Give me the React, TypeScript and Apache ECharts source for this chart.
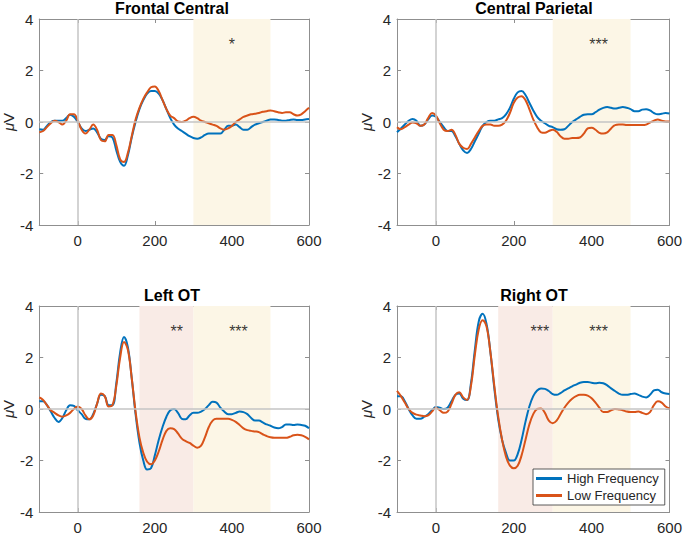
import React, { useEffect, useRef } from "react";
import * as echarts from "echarts";

// time samples (ms)
const TIMES: number[] = [];
for (let t = -100; t <= 600; t += 10) TIMES.push(t);

const FC_HIGH = [
  -0.28, -0.3, -0.15, 0.0, 0.05, 0.05, 0.05, 0.15, 0.28, 0.2,
  0.0, -0.25, -0.35, -0.3, -0.25, -0.4, -0.65, -0.7, -0.55, -0.6,
  -1.1, -1.55, -1.7, -1.3, -0.6, 0.0, 0.5, 0.85, 1.1, 1.2,
  1.2, 1.1, 0.85, 0.5, 0.15, -0.1, -0.25, -0.35, -0.45, -0.55,
  -0.62, -0.65, -0.6, -0.5, -0.45, -0.45, -0.45, -0.45, -0.3, -0.15,
  -0.15, -0.1, -0.2, -0.3, -0.3, -0.2, -0.1, -0.05, 0.0, 0.05,
  0.1, 0.1, 0.08, 0.05, 0.05, 0.08, 0.1, 0.08, 0.08, 0.1, 0.12,
];
const FC_LOW = [
  -0.4, -0.35, -0.2, -0.05, 0.05, 0.0, -0.1, 0.05, 0.3, 0.3,
  0.05, -0.3, -0.45, -0.3, -0.1, -0.3, -0.7, -0.75, -0.5, -0.5,
  -0.9, -1.45, -1.55, -1.2, -0.55, 0.1, 0.55, 0.9, 1.15, 1.35,
  1.38, 1.2, 0.85, 0.5, 0.25, 0.15, 0.02, 0.0, 0.05, 0.15,
  0.2, 0.15, 0.05, 0.0, -0.05, -0.1, -0.15, -0.25, -0.3, -0.25,
  -0.15, 0.0, 0.1, 0.2, 0.25, 0.3, 0.32, 0.35, 0.4, 0.42,
  0.45, 0.42, 0.38, 0.35, 0.38, 0.38, 0.3, 0.25, 0.3, 0.42, 0.55,
];
const CP_HIGH = [
  -0.4, -0.25, -0.1, 0.05, 0.12, 0.05, -0.15, -0.1, 0.1, 0.25,
  0.2, 0.0, -0.2, -0.35, -0.35, -0.55, -0.85, -1.1, -1.2, -1.05,
  -0.75, -0.45, -0.15, 0.0, 0.05, 0.05, 0.1, 0.15, 0.3, 0.55,
  0.9, 1.15, 1.2, 1.05, 0.75, 0.45, 0.2, 0.05, -0.05, -0.15,
  -0.2, -0.28, -0.3, -0.28, -0.15, 0.0, 0.1, 0.2, 0.28, 0.3,
  0.3, 0.38, 0.48, 0.55, 0.58, 0.55, 0.52, 0.55, 0.58, 0.55,
  0.5, 0.42, 0.42, 0.48, 0.5, 0.45, 0.35, 0.3, 0.32, 0.35, 0.33,
];
const CP_LOW = [
  -0.2, -0.28, -0.2, -0.1, -0.02, -0.05, -0.15, -0.1, 0.15, 0.35,
  0.25, -0.05, -0.3, -0.35, -0.3, -0.5, -0.85, -1.0, -1.05, -0.85,
  -0.6, -0.35, -0.15, -0.1, -0.1, -0.15, -0.15, -0.1, 0.05, 0.35,
  0.75, 0.95, 1.0, 0.85, 0.5, 0.1, -0.2, -0.4, -0.42, -0.35,
  -0.3, -0.38, -0.55, -0.65, -0.65, -0.62, -0.62, -0.6, -0.45, -0.25,
  -0.22, -0.3, -0.42, -0.45, -0.4, -0.25, -0.12, -0.1, -0.1, -0.12,
  -0.12, -0.12, -0.12, -0.12, -0.1, -0.02, 0.05, 0.1, 0.05, 0.02, 0.02,
];
const LOT_HIGH = [
  0.3, 0.3, 0.15, -0.1, -0.35, -0.5, -0.35, -0.05, 0.15, 0.12,
  -0.05, -0.2, -0.38, -0.4, -0.2, 0.2, 0.55, 0.5, 0.15, 0.15,
  1.0, 2.2, 2.8, 2.4, 1.2, -0.2, -1.3, -2.0, -2.35, -2.3,
  -1.8, -1.2, -0.7, -0.3, -0.05, 0.0, -0.15, -0.38, -0.4, -0.25,
  -0.15, -0.15, -0.1, 0.0, 0.15, 0.28, 0.25, 0.05, -0.1, -0.2,
  -0.2, -0.15, -0.1, -0.12, -0.2, -0.35, -0.45, -0.45, -0.52, -0.6,
  -0.65, -0.72, -0.75, -0.7, -0.6, -0.6, -0.62, -0.6, -0.62, -0.65, -0.75,
];
const LOT_LOW = [
  0.45, 0.35, 0.15, -0.05, -0.15, -0.25, -0.3, -0.25, -0.15, 0.0,
  0.1, 0.0, -0.25, -0.4, -0.25, 0.2, 0.6, 0.5, 0.1, 0.15,
  0.9, 2.0, 2.6, 2.3, 1.2, -0.1, -1.1, -1.7, -2.05, -2.15,
  -2.0, -1.65, -1.2, -0.85, -0.75, -0.78, -0.95, -1.15, -1.25, -1.32,
  -1.42, -1.5, -1.42, -1.1, -0.7, -0.45, -0.38, -0.38, -0.38, -0.38,
  -0.42, -0.5, -0.62, -0.75, -0.82, -0.85, -0.87, -0.9, -0.98, -1.05,
  -1.1, -1.12, -1.12, -1.12, -1.12, -1.08, -1.02, -1.0, -1.02, -1.08, -1.18,
];
const ROT_HIGH = [
  0.5, 0.5, 0.3, 0.0, -0.25, -0.38, -0.38, -0.3, -0.2, -0.05,
  0.08, 0.05, 0.0, 0.05, 0.3, 0.55, 0.6, 0.4, 0.35, 1.0,
  2.3, 3.4, 3.7, 3.3, 2.2, 0.8, -0.4, -1.2, -1.7, -2.0,
  -2.0, -1.75, -1.2, -0.5, 0.1, 0.5, 0.72, 0.8, 0.78, 0.7,
  0.58, 0.55, 0.62, 0.72, 0.8, 0.88, 0.95, 1.02, 1.05, 1.05,
  1.02, 1.0, 1.02, 1.0, 0.92, 0.8, 0.7, 0.6, 0.55, 0.55,
  0.58, 0.6, 0.55, 0.48, 0.45, 0.55, 0.72, 0.75, 0.65, 0.6, 0.58,
];
const ROT_LOW = [
  0.7, 0.5, 0.25, 0.0, -0.15, -0.22, -0.25, -0.28, -0.25, -0.1,
  0.05, -0.05, -0.15, -0.1, 0.2, 0.55, 0.65, 0.45, 0.35, 0.9,
  2.1, 3.1, 3.45, 3.2, 2.2, 0.9, -0.3, -1.2, -1.85, -2.2,
  -2.3, -2.2, -1.8, -1.2, -0.6, -0.2, 0.0, 0.02, -0.15, -0.45,
  -0.55, -0.45, -0.2, 0.05, 0.25, 0.4, 0.5, 0.55, 0.55, 0.52,
  0.42, 0.25, 0.05, -0.12, -0.12, -0.05, 0.0, -0.02, -0.05, -0.1,
  -0.12, -0.12, -0.1, -0.15, -0.2, -0.12, 0.15, 0.3, 0.25, 0.1, 0.02,
];

const TITLES = ["Frontal Central", "Central Parietal", "Left OT", "Right OT"];
const HIGH = [FC_HIGH, CP_HIGH, LOT_HIGH, ROT_HIGH];
const LOW = [FC_LOW, CP_LOW, LOT_LOW, ROT_LOW];
// significance windows: [from, to, kind]
const BANDS: [number, number, string][][] = [
  [[300, 500, "late"]],
  [[300, 500, "late"]],
  [[160, 300, "early"], [300, 500, "late"]],
  [[160, 300, "early"], [300, 500, "late"]],
];
// significance markers: [x, y, text]
const STARS: [number, number, string][][] = [
  [[400, 3.0, "*"]],
  [[418, 3.0, "***"]],
  [[257, 3.0, "**"], [417, 3.0, "***"]],
  [[267, 3.0, "***"], [418, 3.0, "***"]],
];
const X_TICKS = [0, 200, 400, 600];
const SERIES_NAMES = ["High Frequency", "Low Frequency"];

const GRIDS = [
  { left: 35, top: 19, width: 274, height: 206 },
  { left: 397, top: 19, width: 275, height: 206 },
  { left: 35, top: 306, width: 274, height: 207 },
  { left: 397, top: 306, width: 275, height: 207 },
];
const TITLE_POS = [
  { x: 172, y: 0 },
  { x: 534, y: 0 },
  { x: 172, y: 287 },
  { x: 534, y: 287 },
];

const FONT = "'Liberation Sans', Arial, Helvetica, sans-serif";
const BLUE = "#0072BD";
const ORANGE = "#D95319";
const AXIS_COLOR = "#8f8f8f";
const TEXT_COLOR = "#262626";
const BAND_COLORS: Record<string, string> = { early: "#F9EBE6", late: "#FCF6E6" };

export default function App() {
  const ref = useRef<HTMLDivElement>(null);
  useEffect(() => {
    if (!ref.current) return;
    const chart = echarts.init(ref.current, undefined, { renderer: "svg" });
    const xAxis: any[] = [];
    const yAxis: any[] = [];
    const series: any[] = [];
    GRIDS.forEach((_, i) => {
      const tickStyle = { color: AXIS_COLOR, width: 1 };
      xAxis.push({
        gridIndex: i, type: "value", min: -100, max: 600, position: "bottom",
        axisLine: { show: true, onZero: false, lineStyle: tickStyle },
        axisTick: { show: true, inside: true, length: 4, customValues: X_TICKS, lineStyle: tickStyle },
        axisLabel: { customValues: X_TICKS, color: TEXT_COLOR, fontSize: 15, margin: 8, fontFamily: FONT },
        splitLine: { show: false },
      });
      xAxis.push({
        gridIndex: i, type: "value", min: -100, max: 600, position: "top",
        axisLine: { show: true, onZero: false, lineStyle: tickStyle },
        axisTick: { show: true, inside: true, length: 4, customValues: X_TICKS, lineStyle: tickStyle },
        axisLabel: { show: false },
        splitLine: { show: false },
      });
      yAxis.push({
        gridIndex: i, type: "value", min: -4, max: 4, interval: 2, position: "left",
        name: "{i|μ}V", nameLocation: "middle", nameGap: 18, nameRotate: 90,
        nameTextStyle: {
          color: TEXT_COLOR, fontSize: 15, fontFamily: FONT,
          rich: { i: { fontStyle: "italic", fontSize: 15, color: TEXT_COLOR, fontFamily: FONT } },
        },
        axisLine: { show: true, onZero: false, lineStyle: tickStyle },
        axisTick: { show: true, inside: true, length: 4, lineStyle: tickStyle },
        axisLabel: { color: TEXT_COLOR, fontSize: 15, margin: 6, fontFamily: FONT },
        splitLine: { show: false },
      });
      yAxis.push({
        gridIndex: i, type: "value", min: -4, max: 4, interval: 2, position: "right",
        axisLine: { show: true, onZero: false, lineStyle: tickStyle },
        axisTick: { show: true, inside: true, length: 4, lineStyle: tickStyle },
        axisLabel: { show: false },
        splitLine: { show: false },
      });
      const xi = 2 * i;
      const yi = 2 * i;
      // background bands + zero lines
      series.push({
        type: "line", xAxisIndex: xi, yAxisIndex: yi, data: [], z: 1, silent: true,
        markArea: {
          silent: true,
          data: BANDS[i].map(([a, b, k]) => [
            { xAxis: a, itemStyle: { color: BAND_COLORS[k] } },
            { xAxis: b },
          ]),
        },
        markLine: {
          silent: true, symbol: "none", label: { show: false },
          lineStyle: { color: "#c4c4c4", width: 1.5, type: "solid" },
          data: [{ xAxis: 0 }, { yAxis: 0 }],
        },
      });
      [HIGH[i], LOW[i]].forEach((vals, k) => {
        const color = k === 0 ? BLUE : ORANGE;
        series.push({
          type: "line", name: SERIES_NAMES[k], xAxisIndex: xi, yAxisIndex: yi,
          data: TIMES.map((t, j) => [t, vals[j]]),
          smooth: 0.4, showSymbol: false, symbol: "none", z: 3 + k,
          lineStyle: { color, width: 2 }, itemStyle: { color },
        });
      });
      series.push({
        type: "scatter", xAxisIndex: xi, yAxisIndex: yi, z: 6, silent: true,
        symbolSize: 1, itemStyle: { color: "rgba(0,0,0,0)" },
        data: STARS[i].map(([x, y, s]) => ({ value: [x, y], name: s })),
        label: {
          show: true, position: "inside", formatter: "{b}",
          color: "#000", fontSize: 16, fontFamily: FONT,
        },
      });
    });
    chart.setOption({
      animation: false,
      backgroundColor: "#fff",
      title: TITLES.map((t, i) => ({
        text: t, left: TITLE_POS[i].x, top: TITLE_POS[i].y, textAlign: "center", padding: 0,
        textStyle: { fontSize: 16, fontWeight: "bold", color: "#000", fontFamily: FONT },
      })),
      grid: GRIDS.map((g) => ({ ...g, containLabel: false })),
      xAxis, yAxis, series,
      legend: {
        data: SERIES_NAMES, orient: "vertical", left: 533, top: 469, z: 10,
        icon: "rect", itemWidth: 26, itemHeight: 3, itemGap: 4,
        padding: [3, 6, 3, 3], borderColor: "#333", borderWidth: 0.8, backgroundColor: "#fff",
        textStyle: { fontSize: 13, color: TEXT_COLOR, fontFamily: FONT },
      },
    });
    return () => chart.dispose();
  }, []);
  return <div ref={ref} style={{ position: "fixed", left: 0, top: 0, width: 685, height: 535 }} />;
}
